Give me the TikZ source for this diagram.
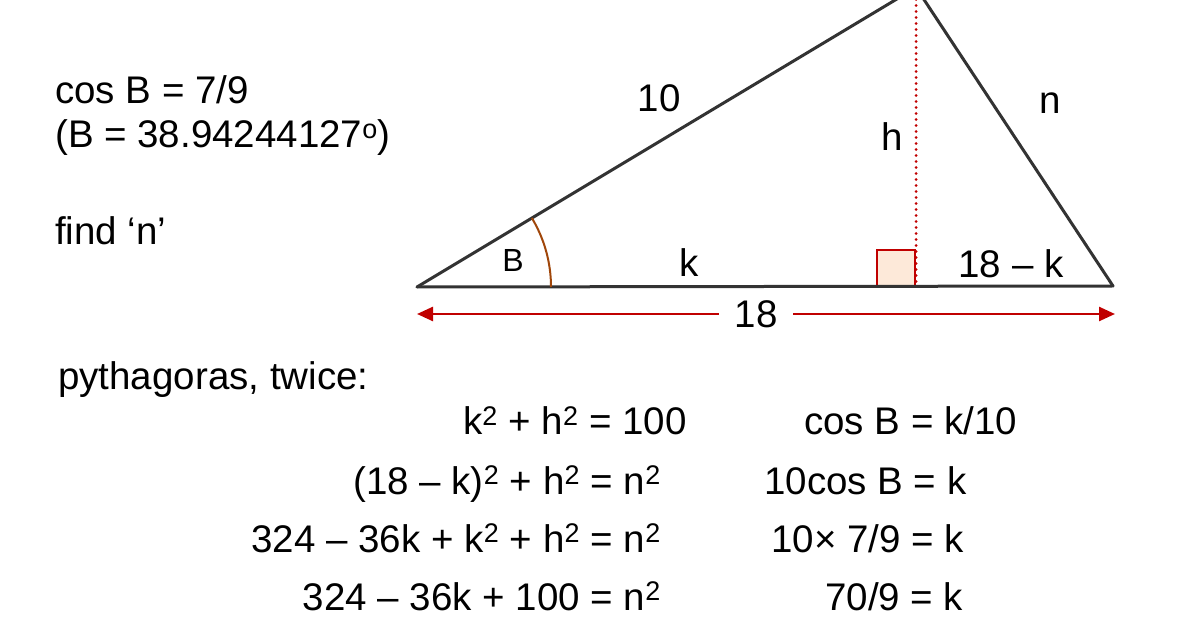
\documentclass[tikz,border=0pt]{standalone}
\usepackage{fontspec}
\setmainfont{Liberation Sans}
\usepackage{tikz}
\usetikzlibrary{arrows.meta}

\definecolor{edge}{RGB}{51,51,51}
\definecolor{darkred}{RGB}{192,0,0}
\definecolor{anglebrown}{RGB}{160,70,10}
\definecolor{boxfill}{RGB}{253,233,217}

\tikzset{
	txt/.style={inner sep=0pt, font=\fontsize{38.5}{46}\selectfont},
	small/.style={inner sep=0pt, font=\fontsize{32}{38}\selectfont},
	side/.style={edge, line width=3pt, line cap=round, line join=round},
}

\begin{document}
\begin{tikzpicture}[x=1pt,y=1pt]
	\useasboundingbox (0,0) rectangle (1200,630);
	% triangle corners
	\coordinate (A) at (417,343);
	\coordinate (C) at (1113,344);
	\coordinate (T) at (916,642.5);
	\coordinate (H) at (916,343.5);
	% height and right angle
	\draw[darkred, line width=3pt, dash pattern=on 0pt off 6pt, line cap=round] (T) to (H);
	\draw[darkred, line width=2.8pt, fill=boxfill] (877,343.5) rectangle (915,380);
	% sides
	\draw[side] (A) to (T);
	\draw[side] (T) to (C);
	\draw[side] (A) to (C);
	% angle B
	\draw[anglebrown, line width=2pt] ([shift={(134,0)}]A) arc [start angle=0, end angle=31, radius=134];
	% length of the base
	\coordinate (L) at (417,316);
	\coordinate (R) at (1115,316);
	\draw[darkred, line width=2.5pt, {Triangle[length=16pt,width=14pt]}-{Triangle[length=16pt,width=14pt]}] (L) to (R);
	\node[txt, fill=white, inner xsep=16pt, inner ysep=4pt] (base) at (756,316) {18};
	% side labels
	\node[txt, anchor=base] (ten) at (659,518) {10};
	\node[txt, anchor=base] (hh) at (892,479) {h};
	\node[txt, anchor=base] (nn) at (1050,516) {n};
	\node[small, anchor=base] (bb) at (513,358) {B};
	\node[txt, anchor=base] (kk) at (689,353) {k};
	\node[txt, anchor=base] (rest) at (1011,352) {18 – k};
	% given
	\node[txt, anchor=base west] (cosb) at (55,526) {cos B = 7/9};
	\node[txt, anchor=base west] (angb) at (55,482) {(B = 38.94244127\textsuperscript{o})};
	\node[txt, anchor=base west] (find) at (55,385) {find ‘n’};
	\node[txt, anchor=base west] (pyth) at (58,240) {pythagoras, twice:};
	% working, left column
	\node[txt, anchor=base east] (eqa) at (687,195) {k\textsuperscript{2} + h\textsuperscript{2} = 100};
	\node[txt, anchor=base east] (eqb) at (661,136) {(18 – k)\textsuperscript{2} + h\textsuperscript{2} = n\textsuperscript{2}};
	\node[txt, anchor=base east] (eqc) at (661,78) {324 – 36k + k\textsuperscript{2} + h\textsuperscript{2} = n\textsuperscript{2}};
	\node[txt, anchor=base east] (eqd) at (661,20) {324 – 36k + 100 = n\textsuperscript{2}};
	% working, right column
	\node[txt, anchor=base west] (cosa) at (804,195) {cos B = k/10};
	\node[txt, anchor=base west] (cosc) at (764,136) {10cos B = k};
	\node[txt, anchor=base west] (cosd) at (771,78) {10× 7/9 = k};
	\node[txt, anchor=base west] (cose) at (825,20) {70/9 = k};
\end{tikzpicture}
\end{document}
